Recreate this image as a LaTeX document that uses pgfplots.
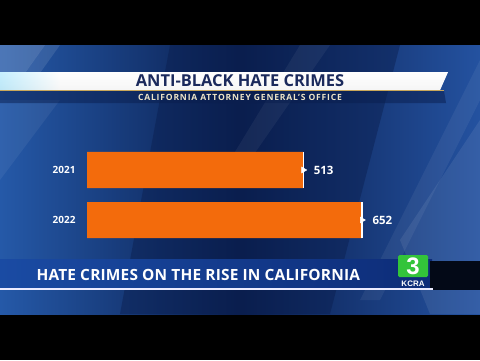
\documentclass[border=0pt]{standalone}
\usepackage{pgfplots}
\pgfplotsset{compat=1.18}
\usepackage{fontspec}
\setmainfont{Open Sans}
\newfontfamily\logofont{Liberation Sans}
\definecolor{bgdark}{HTML}{0A1E4E}
\definecolor{bgleft}{HTML}{2559A8}
\definecolor{bgright}{HTML}{2452A0}
\definecolor{barorange}{HTML}{F36B0C}
\definecolor{titlenavy}{HTML}{1B2A5C}
\definecolor{subcream}{HTML}{EDE4C8}
\definecolor{gold}{HTML}{C9A75A}
\definecolor{bandl}{HTML}{1A4BA3}
\definecolor{bandr}{HTML}{0D2C78}
\definecolor{kgreen}{HTML}{33C43A}
\begin{document}
\begin{tikzpicture}[x=1bp,y=1bp]
\useasboundingbox (0,0) rectangle (480,360);
\clip (0,0) rectangle (480,360);
\fill[black] (0,0) rectangle (480,360);
% background
\shade[left color=bgleft, right color=bgright, middle color=bgdark] (0,46) rectangle (480,315);
\fill[bgdark, opacity=0.45] (120,46) -- (330,46) -- (400,315) -- (170,315) -- cycle;
\fill[white, opacity=0.18] (0,315) -- (45,315) -- (20,280) -- (0,280) -- cycle;
\fill[white, opacity=0.10] (45,315) -- (60,315) -- (35,280) -- (20,280) -- cycle;
\fill[white, opacity=0.06] (0,180) -- (60,260) -- (0,260) -- cycle;
\fill[white, opacity=0.08] (430,46) -- (480,46) -- (480,240) -- (400,120) -- cycle;
\fill[white, opacity=0.06] (380,60) -- (480,260) -- (480,300) -- (360,60) -- cycle;
\fill[white, opacity=0.05] (300,315) -- (330,315) -- (250,200) -- (230,200) -- cycle;
% title banner
\shade[left color=white!75!blue!60!cyan, right color=white, shading angle=90] (0,270) rectangle (60,288);
\fill[white] (60,270) -- (440,270) -- (448,288) -- (60,288) -- cycle;
\shade[top color=white, bottom color=white!88!gray, opacity=0.6] (0,270) -- (440,270) -- (448,288) -- (0,288) -- cycle;
\fill[gold] (0,269) rectangle (444,270.3);
\fill[bgdark, opacity=0.5] (0,257) -- (446,257) -- (444,269) -- (0,269) -- cycle;
\node[titlenavy, font=\bfseries\fontsize{16.5}{18}\selectfont] at (240,279.5) {ANTI-BLACK HATE CRIMES};
\node[subcream, font=\bfseries\fontsize{8.6}{9}\selectfont\addfontfeatures{LetterSpace=9.5}] at (240,263) {CALIFORNIA ATTORNEY GENERAL'S OFFICE};
% lower third
\shade[left color=bandl, right color=bandr] (0,71) rectangle (432,101);
\fill[black!70!bgdark] (430,70) rectangle (480,99);
\fill[white!80!blue!40] (0,70) rectangle (433,71.6);
\node[white, font=\bfseries\fontsize{15.5}{17}\selectfont\addfontfeatures{LetterSpace=1.2}, anchor=west] at (33,85.5) {HATE CRIMES ON THE RISE IN CALIFORNIA};
\fill[kgreen, rounded corners=1.5] (398,83) rectangle (428,105);
\node[white, font=\logofont\bfseries\fontsize{24}{24}\selectfont] at (413,94) {3};
\node[white, font=\logofont\bfseries\fontsize{8}{8}\selectfont] at (413,76.5) {KCRA};
% chart
\begin{axis}[
  x=0.4218bp, y=50bp, xmin=0, xmax=700, ymin=-0.5, ymax=1.5,
  anchor=south west, at={(87bp,115bp)}, clip=false, hide axis,
  /pgf/number format/assume math mode=true,
]
\addplot[xbar, bar width=36bp, fill=barorange, draw=none,
  nodes near coords,
  nodes near coords style={white, anchor=west, xshift=7bp, font=\bfseries\fontsize{11.5}{13}\selectfont}]
  coordinates {(513,1) (652,0)};
\addplot[white, line width=1.3bp, forget plot] coordinates {(513,0.64) (513,1.36)};
\addplot[white, line width=1.3bp, forget plot] coordinates {(652,-0.36) (652,0.36)};
\addplot[only marks, mark=triangle*, mark size=3.4bp, mark options={rotate=-90, white}, forget plot] coordinates {(513,1) (652,0)};
\node[white, anchor=east, font=\bfseries\fontsize{10}{11}\selectfont] at (axis cs:0,1) [xshift=-8bp] {2021};
\node[white, anchor=east, font=\bfseries\fontsize{10}{11}\selectfont] at (axis cs:0,0) [xshift=-8bp] {2022};
\end{axis}
\end{tikzpicture}
\end{document}
